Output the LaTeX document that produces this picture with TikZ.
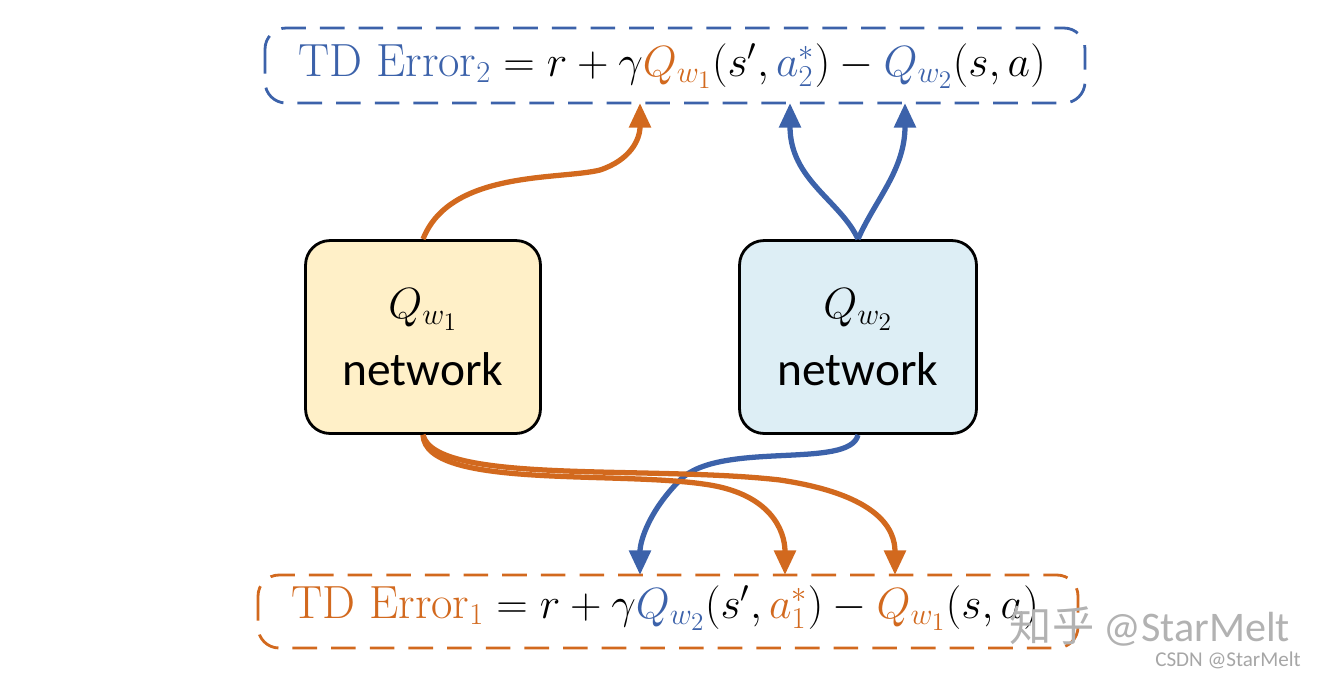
\documentclass[tikz,border=0pt]{standalone}
\usepackage{fontspec}
\usepackage{amsmath}
\newfontfamily\calfont{Carlito}
\newfontfamily\cjk{Noto Sans CJK SC}
\usetikzlibrary{arrows.meta}
\definecolor{cblue}{HTML}{3C62AA}
\definecolor{corange}{HTML}{D2691E}
\definecolor{yfill}{HTML}{FFF0C8}
\definecolor{bfill}{HTML}{DDEEF5}
\begin{document}
\begin{tikzpicture}[x=0.02cm,y=-0.02cm,
  net/.style={draw=black,line width=1.6pt,rounded corners=14pt,font=\calfont\fontsize{27}{32}\selectfont,align=center,inner sep=0pt},
  eq/.style={dashed,line width=1.6pt,dash pattern=on 14pt off 8pt,rounded corners=12pt},
  arr/.style={line width=3pt,-{Triangle[length=14pt,width=12pt]}},
  ftxt/.style={font=\fontsize{26.5}{30}\selectfont}]
\useasboundingbox (0,0) rectangle (1326,681);
\draw[eq,cblue] (265,28) rectangle (1085,103);
\draw[eq,corange] (258,575) rectangle (1078,648);
\node[ftxt] (top) at (672,66) {$\color{cblue}\text{TD Error}_2\color{black}=r+\gamma\color{corange}Q_{w_1}\color{black}(s',\color{cblue}a_2^*\color{black})-\color{cblue}Q_{w_2}\color{black}(s,a)$};
\node[ftxt] (bot) at (665,608) {$\color{corange}\text{TD Error}_1\color{black}=r+\gamma\color{cblue}Q_{w_2}\color{black}(s',\color{corange}a_1^*\color{black})-\color{corange}Q_{w_1}\color{black}(s,a)$};
\node[net,fill=yfill,minimum width=4.7cm,minimum height=3.86cm] (n1) at (423,337) {$Q_{w_1}$\\[6pt]network};
\node[net,fill=bfill,minimum width=4.74cm,minimum height=3.86cm] (n2) at (858,337) {$Q_{w_2}$\\[6pt]network};
\coordinate (t1) at (640,103);
\coordinate (t2) at (790,103);
\coordinate (t3) at (905,103);
\coordinate (b1) at (640,575);
\coordinate (b2) at (785,575);
\coordinate (b3) at (895,575);
\draw[arr,corange] (n1.north) .. controls (450,170) and (560,180) .. (600,170) .. controls (630,160) and (640,140) .. (t1);
\draw[arr,cblue] (n2.north) .. controls (840,200) and (790,180) .. (t2);
\draw[arr,cblue] (n2.north) .. controls (875,200) and (905,170) .. (t3);
\draw[arr,cblue] (n2.south) .. controls (850,470) and (720,440) .. (680,480) .. controls (650,510) and (640,540) .. (b1);
\draw[arr,corange] (n1.south) .. controls (425,490) and (620,470) .. (710,485) .. controls (770,495) and (785,530) .. (b2);
\draw[arr,corange] (n1.south) .. controls (435,485) and (650,465) .. (780,480) .. controls (880,495) and (895,530) .. (b3);
\node[text=gray!60,font=\fontsize{24}{28}\selectfont] (wm) at (1150,626) {\cjk 知乎 \calfont @StarMelt};
\node[text=gray!70,font=\calfont\fontsize{12}{14}\selectfont] (wm2) at (1228,660) {CSDN @StarMelt};
\end{tikzpicture}
\end{document}
